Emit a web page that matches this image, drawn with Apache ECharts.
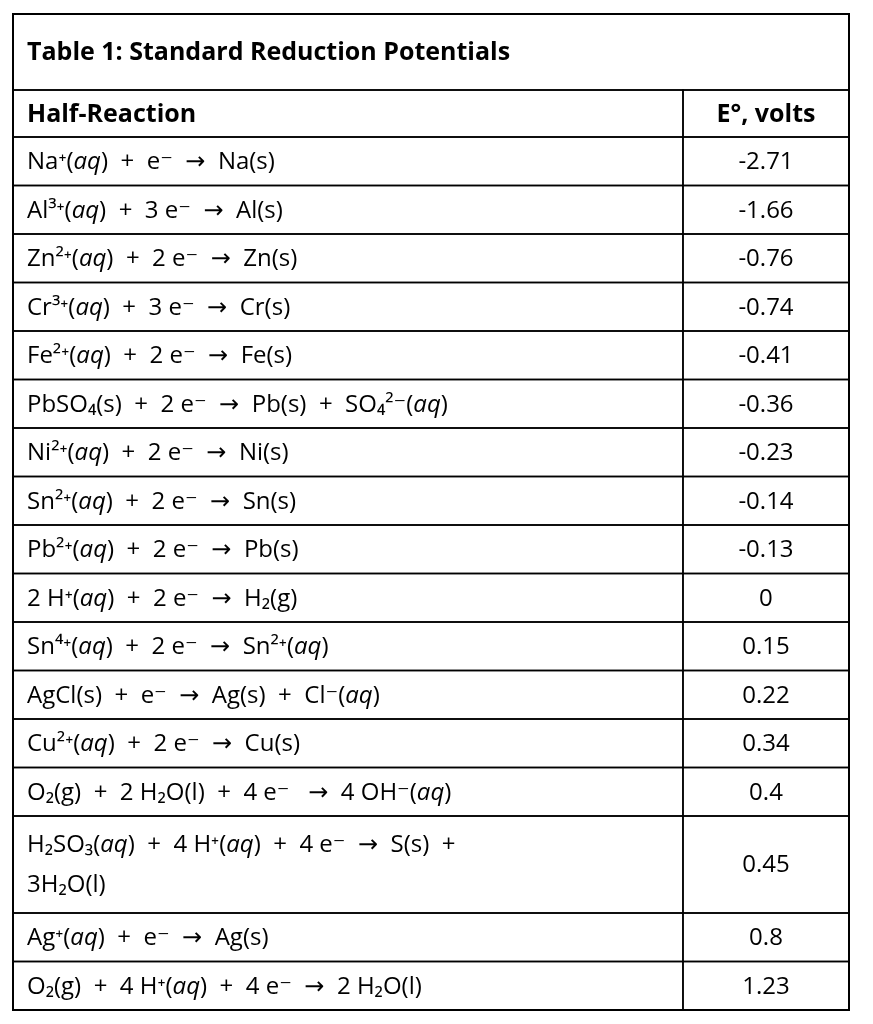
<!DOCTYPE html>
<html><head><meta charset="utf-8">
<script src="https://cdn.jsdelivr.net/npm/echarts@6/dist/echarts.min.js"></script>
<style>html,body{margin:0;background:#fff}#c{width:873px;height:1024px}</style>
</head><body><div id="c"></div>
<script>
const title = "Table 1: Standard Reduction Potentials";
const headers = ["Half-Reaction", "E°, volts"];
const reactions = [
  "Na⁺({i|aq})  +  e⁻  →  Na(s)",
  "Al³⁺({i|aq})  +  3 e⁻  →  Al(s)",
  "Zn²⁺({i|aq})  +  2 e⁻  →  Zn(s)",
  "Cr³⁺({i|aq})  +  3 e⁻  →  Cr(s)",
  "Fe²⁺({i|aq})  +  2 e⁻  →  Fe(s)",
  "PbSO₄(s)  +  2 e⁻  →  Pb(s)  +  SO₄²⁻({i|aq})",
  "Ni²⁺({i|aq})  +  2 e⁻  →  Ni(s)",
  "Sn²⁺({i|aq})  +  2 e⁻  →  Sn(s)",
  "Pb²⁺({i|aq})  +  2 e⁻  →  Pb(s)",
  "2 H⁺({i|aq})  +  2 e⁻  →  H₂(g)",
  "Sn⁴⁺({i|aq})  +  2 e⁻  →  Sn²⁺({i|aq})",
  "AgCl(s)  +  e⁻  →  Ag(s)  +  Cl⁻({i|aq})",
  "Cu²⁺({i|aq})  +  2 e⁻  →  Cu(s)",
  "O₂(g)  +  2 H₂O(l)  +  4 e⁻   →  4 OH⁻({i|aq})",
  "H₂SO₃({i|aq})  +  4 H⁺({i|aq})  +  4 e⁻  →  S(s)  +\n3H₂O(l)",
  "Ag⁺({i|aq})  +  e⁻  →  Ag(s)",
  "O₂(g)  +  4 H⁺({i|aq})  +  4 e⁻  →  2 H₂O(l)"
];
const potentials = ["-2.71","-1.66","-0.76","-0.74","-0.41","-0.36","-0.23","-0.14","-0.13","0","0.15","0.22","0.34","0.4","0.45","0.8","1.23"];
const rowUnits = [1,1,1,1,1,1,1,1,1,1,1,1,1,1,2,1,1];

let start = 0;
const data = reactions.map((r, i) => { const d = [i, start, rowUnits[i], r, potentials[i]]; start += rowUnits[i]; return d; });
const total = start;
const F = "'Open Sans', 'DejaVu Sans', sans-serif";
const SPLIT = 0.8014;
const chart = echarts.init(document.getElementById('c'));
chart.setOption({
  animation: false,
  grid: {left: 13, right: 24, top: 137, bottom: 14},
  xAxis: {type: 'value', min: 0, max: 1, show: false},
  yAxis: {type: 'value', min: 0, max: total, inverse: true, show: false},
  graphic: [
    {type: 'rect', shape: {x: 13, y: 14, width: 836, height: 76}, style: {fill: 'none', stroke: '#000', lineWidth: 1.5}},
    {type: 'text', x: 27, y: 53, style: {text: title, font: 'bold 25px ' + F, fill: '#000', verticalAlign: 'middle'}},
    {type: 'rect', shape: {x: 13, y: 90, width: 670, height: 47}, style: {fill: 'none', stroke: '#000', lineWidth: 1.5}},
    {type: 'rect', shape: {x: 683, y: 90, width: 166, height: 47}, style: {fill: 'none', stroke: '#000', lineWidth: 1.5}},
    {type: 'text', x: 27, y: 115, style: {text: headers[0], font: 'bold 25px ' + F, fill: '#000', verticalAlign: 'middle'}},
    {type: 'text', x: 766, y: 115, style: {text: headers[1], font: 'bold 25px ' + F, fill: '#000', align: 'center', verticalAlign: 'middle'}},
    {type: 'rect', z: 10, shape: {x: 13, y: 14, width: 836, height: 996}, style: {fill: 'none', stroke: '#000', lineWidth: 2}}
  ],
  series: [{
    type: 'custom',
    data: data,
    renderItem: function (params, api) {
      const s = api.value(1), u = api.value(2);
      const p0 = api.coord([0, s]), p1 = api.coord([SPLIT, s + u]), p2 = api.coord([1, s + u]);
      const d = data[params.dataIndex];
      return {type: 'group', children: [
        {type: 'rect', shape: {x: p0[0], y: p0[1], width: p1[0] - p0[0], height: p1[1] - p0[1]}, style: {fill: 'none', stroke: '#000', lineWidth: 1.5}},
        {type: 'rect', shape: {x: p1[0], y: p0[1], width: p2[0] - p1[0], height: p1[1] - p0[1]}, style: {fill: 'none', stroke: '#000', lineWidth: 1.5}},
        {type: 'text', x: p0[0] + 14, y: (p0[1] + p1[1]) / 2 + 1, style: {text: d[3], font: '24px ' + F, fill: '#000', verticalAlign: 'middle', lineHeight: 40,
          rich: {i: {fontStyle: 'italic', fontSize: 24, fontFamily: F}}}},
        {type: 'text', x: (p1[0] + p2[0]) / 2, y: (p0[1] + p1[1]) / 2 + 1, style: {text: d[4], font: '24px ' + F, fill: '#000', align: 'center', verticalAlign: 'middle'}}
      ]};
    }
  }]
});
</script></body></html>
